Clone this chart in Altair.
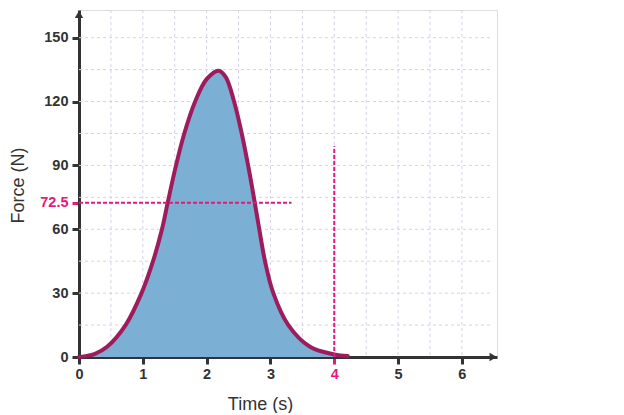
import altair as alt
import pandas as pd

# Force-time curve
times = [0, 0.1, 0.25, 0.44, 0.73, 0.98, 1.16, 1.30, 1.39, 1.52, 1.65, 1.82, 2.0, 2.19,
         2.3, 2.43, 2.55, 2.65, 2.74, 2.825, 2.915, 3.045, 3.28, 3.62, 4.0, 4.21]
forces = [0, 0.4, 1.5, 4.8, 15, 30, 45, 60, 72.5, 90, 105, 120, 130.5, 134.5,
          131.5, 120, 105, 90, 75, 60, 45, 30, 15, 4.8, 1.2, 0.5]

x_ticks = [0, 1, 2, 3, 4, 5, 6]
y_ticks = [0, 30, 60, 72.5, 90, 120, 150]
grid_x = [0.5, 1, 1.5, 2, 2.5, 3, 3.5, 4, 4.5, 5, 5.5, 6]
grid_y = [15, 30, 45, 60, 75, 90, 105, 120, 135, 150]
grid_x_end = 6.45

h_marker = {"y": 72.5, "x0": 0, "x1": 3.33}
v_marker = {"x": 4, "y0": 0, "y1": 99}

X_MAX = 6.55
Y_MAX = 163

PINK = "#E5197A"
DARK = "#333333"
CURVE = "#9E1B5C"
FILL = "#7BAFD4"
GRID = "#D6D1E6"
FONT = "Liberation Sans"

xs = alt.Scale(domain=[0, X_MAX], nice=False, zero=False)
ys = alt.Scale(domain=[0, Y_MAX], nice=False, zero=False)

curve_df = pd.DataFrame({"t": times, "F": forces})

x_axis = alt.Axis(
    values=x_ticks, format="d", title="Time (s)", grid=False,
    domainColor=DARK, domainWidth=3, tickSize=7, tickWidth=3,
    tickColor={"condition": {"test": "datum.value == 4", "value": PINK}, "value": DARK},
    labelColor={"condition": {"test": "datum.value == 4", "value": PINK}, "value": DARK},
    labelFont=FONT, labelFontSize=14.5, labelFontWeight="bold", labelPadding=3,
    labelFlush=False, labelOverlap=False,
    titleFont=FONT, titleFontSize=18, titleFontWeight="normal", titleColor=DARK,
    titleX=181, titleY=52, titleAlign="center", titleBaseline="alphabetic",
)
y_axis = alt.Axis(
    values=y_ticks, format=".1~f", title="Force (N)", grid=False,
    domainColor=DARK, domainWidth=3, tickSize=7, tickWidth=3,
    tickColor={"condition": {"test": "datum.value == 72.5", "value": PINK}, "value": DARK},
    labelColor={"condition": {"test": "datum.value == 72.5", "value": PINK}, "value": DARK},
    labelFont=FONT, labelFontSize=14.5, labelFontWeight="bold", labelPadding=4,
    labelFlush=False, labelOverlap=False,
    titleFont=FONT, titleFontSize=18, titleFontWeight="normal", titleColor=DARK,
    titleX=-56, titleY=175, titleAlign="center", titleBaseline="alphabetic", titleAngle=-90,
)

vgrid = alt.Chart(pd.DataFrame({"gx": grid_x})).mark_rule(
    color=GRID, strokeWidth=1, strokeDash=[3, 3]
).encode(x=alt.X("gx:Q", scale=xs, axis=x_axis))

hgrid = alt.Chart(pd.DataFrame({"gy": grid_y, "x0": 0, "x1": grid_x_end})).mark_rule(
    color=GRID, strokeWidth=1, strokeDash=[3, 3]
).encode(
    y=alt.Y("gy:Q", scale=ys, axis=y_axis),
    x=alt.X("x0:Q", scale=xs),
    x2="x1:Q",
)

area = alt.Chart(curve_df).mark_area(
    color=FILL, interpolate="catmull-rom", opacity=1
).encode(x=alt.X("t:Q", scale=xs), y=alt.Y("F:Q", scale=ys))

line = alt.Chart(curve_df).mark_line(
    color=CURVE, strokeWidth=4, interpolate="catmull-rom", strokeCap="round"
).encode(x=alt.X("t:Q", scale=xs), y=alt.Y("F:Q", scale=ys))

hdash = alt.Chart(pd.DataFrame([h_marker])).mark_rule(
    color=PINK, strokeWidth=2, strokeDash=[4, 2]
).encode(y=alt.Y("y:Q", scale=ys), x=alt.X("x0:Q", scale=xs), x2="x1:Q")

vdash = alt.Chart(pd.DataFrame([v_marker])).mark_rule(
    color=PINK, strokeWidth=2, strokeDash=[4, 2]
).encode(x=alt.X("x:Q", scale=xs), y=alt.Y("y0:Q", scale=ys), y2="y1:Q")

arrow_x = alt.Chart(pd.DataFrame({"ax": [6.49], "ay": [0]})).mark_point(
    shape="triangle-right", filled=True, color=DARK, size=70, opacity=1
).encode(x=alt.X("ax:Q", scale=xs), y=alt.Y("ay:Q", scale=ys))

arrow_y = alt.Chart(pd.DataFrame({"ax": [0], "ay": [161]})).mark_point(
    shape="triangle-up", filled=True, color=DARK, size=70, opacity=1
).encode(x=alt.X("ax:Q", scale=xs), y=alt.Y("ay:Q", scale=ys))

chart = alt.layer(vgrid, hgrid, area, line, hdash, vdash, arrow_x, arrow_y).properties(
    width=418, height=347,
    autosize=alt.AutoSizeParams(type="none"),
    padding={"left": 71, "top": 2, "right": 100, "bottom": 56},
).configure_view(stroke=None).configure(background="white")

chart.save("out.html", embed_options={"renderer": "svg", "actions": False})
